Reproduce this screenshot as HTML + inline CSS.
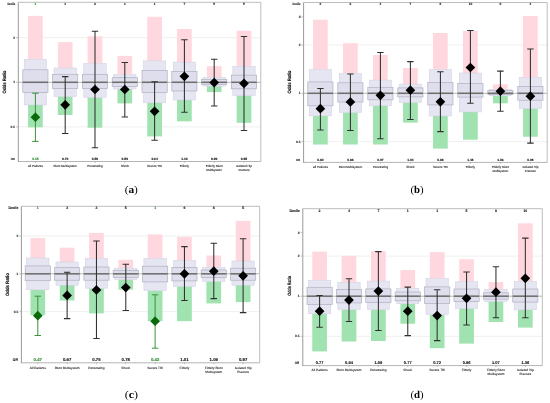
<!DOCTYPE html>
<html><head><meta charset="utf-8"><title>Odds ratio by decile</title>
<style>
html,body{margin:0;padding:0;background:#fff;}
body{width:550px;height:403px;overflow:hidden;}
svg{display:block;}
text{font-family:"Liberation Sans",Arial,sans-serif;text-rendering:geometricPrecision;}
.lab{font-family:"Liberation Serif","Times New Roman",serif;}
</style></head>
<body>
<svg width="550" height="403" viewBox="0 0 550 403">
<rect width="550" height="403" fill="#fff"/>
<line x1="18.3" y1="37.7" x2="260.8" y2="37.7" stroke="#e4e4e4" stroke-width="0.6"/>
<line x1="18.3" y1="126.9" x2="260.8" y2="126.9" stroke="#e4e4e4" stroke-width="0.6"/>
<rect x="28.05" y="15.9" width="14.7" height="43.4" fill="#ffd7de"/>
<rect x="28.05" y="105" width="14.7" height="22.3" fill="#a0e2b0"/>
<rect x="24.2" y="59.3" width="22.4" height="45.7" fill="#e6e6f2" stroke="#cfcfe0" stroke-width="0.5"/>
<rect x="22.8" y="69.8" width="25.2" height="22.7" fill="#dedeed" stroke="#afafc2" stroke-width="0.7"/>
<rect x="57.85" y="42.1" width="14.7" height="25.9" fill="#ffd7de"/>
<rect x="57.85" y="96.6" width="14.7" height="18.4" fill="#a0e2b0"/>
<rect x="54" y="68" width="22.4" height="28.6" fill="#e6e6f2" stroke="#cfcfe0" stroke-width="0.5"/>
<rect x="52.6" y="74.3" width="25.2" height="14.3" fill="#dedeed" stroke="#afafc2" stroke-width="0.7"/>
<rect x="87.65" y="36.3" width="14.7" height="27.1" fill="#ffd7de"/>
<rect x="87.65" y="97.5" width="14.7" height="30.2" fill="#a0e2b0"/>
<rect x="83.8" y="63.4" width="22.4" height="34.1" fill="#e6e6f2" stroke="#cfcfe0" stroke-width="0.5"/>
<rect x="82.4" y="74.3" width="25.2" height="14.1" fill="#dedeed" stroke="#afafc2" stroke-width="0.7"/>
<rect x="117.45" y="55.9" width="14.7" height="18.4" fill="#ffd7de"/>
<rect x="117.45" y="89" width="14.7" height="14.4" fill="#a0e2b0"/>
<rect x="113.6" y="74.3" width="22.4" height="14.7" fill="#e6e6f2" stroke="#cfcfe0" stroke-width="0.5"/>
<rect x="112.2" y="77.7" width="25.2" height="8.7" fill="#dedeed" stroke="#afafc2" stroke-width="0.7"/>
<rect x="147.25" y="16.8" width="14.7" height="44.1" fill="#ffd7de"/>
<rect x="147.25" y="102.8" width="14.7" height="33.6" fill="#a0e2b0"/>
<rect x="143.4" y="60.9" width="22.4" height="41.9" fill="#e6e6f2" stroke="#cfcfe0" stroke-width="0.5"/>
<rect x="142" y="70.4" width="25.2" height="22" fill="#dedeed" stroke="#afafc2" stroke-width="0.7"/>
<rect x="177.05" y="29" width="14.7" height="33.1" fill="#ffd7de"/>
<rect x="177.05" y="100" width="14.7" height="21.4" fill="#a0e2b0"/>
<rect x="173.2" y="62.1" width="22.4" height="37.9" fill="#e6e6f2" stroke="#cfcfe0" stroke-width="0.5"/>
<rect x="171.8" y="71.5" width="25.2" height="19.5" fill="#dedeed" stroke="#afafc2" stroke-width="0.7"/>
<rect x="206.85" y="66.2" width="14.7" height="11.3" fill="#ffd7de"/>
<rect x="206.85" y="86.1" width="14.7" height="6" fill="#a0e2b0"/>
<rect x="203" y="77.5" width="22.4" height="8.6" fill="#e6e6f2" stroke="#cfcfe0" stroke-width="0.5"/>
<rect x="201.6" y="79.6" width="25.2" height="4.7" fill="#dedeed" stroke="#afafc2" stroke-width="0.7"/>
<rect x="236.65" y="30.7" width="14.7" height="35.6" fill="#ffd7de"/>
<rect x="236.65" y="95.7" width="14.7" height="27.1" fill="#a0e2b0"/>
<rect x="232.8" y="66.3" width="22.4" height="29.4" fill="#e6e6f2" stroke="#cfcfe0" stroke-width="0.5"/>
<rect x="231.4" y="75.1" width="25.2" height="13.7" fill="#dedeed" stroke="#afafc2" stroke-width="0.7"/>
<line x1="18.3" y1="82.3" x2="260.8" y2="82.3" stroke="#ababab" stroke-width="0.9"/>
<line x1="22.8" y1="82.3" x2="48" y2="82.3" stroke="#6e6e6e" stroke-width="1.5"/>
<line x1="52.6" y1="82.3" x2="77.8" y2="82.3" stroke="#6e6e6e" stroke-width="1.5"/>
<line x1="82.4" y1="82.3" x2="107.6" y2="82.3" stroke="#6e6e6e" stroke-width="1.5"/>
<line x1="112.2" y1="82.3" x2="137.4" y2="82.3" stroke="#6e6e6e" stroke-width="1.5"/>
<line x1="142" y1="82.3" x2="167.2" y2="82.3" stroke="#6e6e6e" stroke-width="1.5"/>
<line x1="171.8" y1="82.3" x2="197" y2="82.3" stroke="#6e6e6e" stroke-width="1.5"/>
<line x1="201.6" y1="82.3" x2="226.8" y2="82.3" stroke="#6e6e6e" stroke-width="1.5"/>
<line x1="231.4" y1="82.3" x2="256.6" y2="82.3" stroke="#6e6e6e" stroke-width="1.5"/>
<path d="M35.4 93.2V141.4M32.2 93.2H38.6M32.2 141.4H38.6" stroke="#3a933a" stroke-width="1.0" fill="none"/>
<path d="M35.4 112.35L40.25 117.2L35.4 122.05L30.55 117.2Z" fill="#0a6a0a"/>
<path d="M65.2 76.6V133.4M62 76.6H68.4M62 133.4H68.4" stroke="#303030" stroke-width="1.05" fill="none"/>
<path d="M65.2 99.95L70.05 104.8L65.2 109.65L60.35 104.8Z" fill="#000"/>
<path d="M95 31.3V147.7M91.8 31.3H98.2M91.8 147.7H98.2" stroke="#303030" stroke-width="1.05" fill="none"/>
<path d="M95 84.65L99.85 89.5L95 94.35L90.15 89.5Z" fill="#000"/>
<path d="M124.8 62.4V117M121.6 62.4H128M121.6 117H128" stroke="#303030" stroke-width="1.05" fill="none"/>
<path d="M124.8 84.65L129.65 89.5L124.8 94.35L119.95 89.5Z" fill="#000"/>
<path d="M154.6 81.7V140.2M151.4 81.7H157.8M151.4 140.2H157.8" stroke="#303030" stroke-width="1.05" fill="none"/>
<path d="M154.6 106.45L159.45 111.3L154.6 116.15L149.75 111.3Z" fill="#000"/>
<path d="M184.4 39.8V112.2M181.2 39.8H187.6M181.2 112.2H187.6" stroke="#303030" stroke-width="1.05" fill="none"/>
<path d="M184.4 71.45L189.25 76.3L184.4 81.15L179.55 76.3Z" fill="#000"/>
<path d="M214.2 59.2V106M211 59.2H217.4M211 106H217.4" stroke="#303030" stroke-width="1.05" fill="none"/>
<path d="M214.2 77.75L219.05 82.6L214.2 87.45L209.35 82.6Z" fill="#000"/>
<path d="M244 36.4V130.5M240.8 36.4H247.2M240.8 130.5H247.2" stroke="#303030" stroke-width="1.05" fill="none"/>
<path d="M244 78.55L248.85 83.4L244 88.25L239.15 83.4Z" fill="#000"/>
<path d="M18.3 2.3H260.8V161.5" stroke="#bdbdbd" stroke-width="1.0" fill="none"/>
<path d="M18.3 161.5H260.8" stroke="#ababab" stroke-width="0.9" fill="none"/>
<path d="M18.3 2.3V161.95" stroke="#9a9a9a" stroke-width="1" fill="none"/>
<line x1="16.1" y1="37.7" x2="18.3" y2="37.7" stroke="#9a9a9a" stroke-width="0.6"/>
<text x="15.2" y="38.89" font-size="3.3" font-weight="bold" text-anchor="end" fill="#333" stroke="#333" stroke-width="0.1">2</text>
<line x1="16.1" y1="82.3" x2="18.3" y2="82.3" stroke="#9a9a9a" stroke-width="0.6"/>
<text x="15.2" y="83.49" font-size="3.3" font-weight="bold" text-anchor="end" fill="#333" stroke="#333" stroke-width="0.1">1</text>
<line x1="16.1" y1="126.9" x2="18.3" y2="126.9" stroke="#9a9a9a" stroke-width="0.6"/>
<text x="15.2" y="128.09" font-size="3.3" font-weight="bold" text-anchor="end" fill="#333" stroke="#333" stroke-width="0.1">0.5</text>
<line x1="35.4" y1="161.5" x2="35.4" y2="162.9" stroke="#9a9a9a" stroke-width="0.6"/>
<line x1="65.2" y1="161.5" x2="65.2" y2="162.9" stroke="#9a9a9a" stroke-width="0.6"/>
<line x1="95" y1="161.5" x2="95" y2="162.9" stroke="#9a9a9a" stroke-width="0.6"/>
<line x1="124.8" y1="161.5" x2="124.8" y2="162.9" stroke="#9a9a9a" stroke-width="0.6"/>
<line x1="154.6" y1="161.5" x2="154.6" y2="162.9" stroke="#9a9a9a" stroke-width="0.6"/>
<line x1="184.4" y1="161.5" x2="184.4" y2="162.9" stroke="#9a9a9a" stroke-width="0.6"/>
<line x1="214.2" y1="161.5" x2="214.2" y2="162.9" stroke="#9a9a9a" stroke-width="0.6"/>
<line x1="244" y1="161.5" x2="244" y2="162.9" stroke="#9a9a9a" stroke-width="0.6"/>
<text x="15.2" y="4.79" font-size="3.3" font-weight="bold" text-anchor="end" textLength="7.8" lengthAdjust="spacingAndGlyphs" fill="#111" stroke="#111" stroke-width="0.1">Decile</text>
<text x="35.4" y="4.75" font-size="3.2" font-weight="bold" text-anchor="middle" fill="#2e8b2e" stroke="#2e8b2e" stroke-width="0.1">1</text>
<text x="65.2" y="4.75" font-size="3.2" font-weight="bold" text-anchor="middle" fill="#222" stroke="#222" stroke-width="0.1">1</text>
<text x="95" y="4.75" font-size="3.2" font-weight="bold" text-anchor="middle" fill="#222" stroke="#222" stroke-width="0.1">3</text>
<text x="124.8" y="4.75" font-size="3.2" font-weight="bold" text-anchor="middle" fill="#222" stroke="#222" stroke-width="0.1">1</text>
<text x="154.6" y="4.75" font-size="3.2" font-weight="bold" text-anchor="middle" fill="#222" stroke="#222" stroke-width="0.1">1</text>
<text x="184.4" y="4.75" font-size="3.2" font-weight="bold" text-anchor="middle" fill="#222" stroke="#222" stroke-width="0.1">7</text>
<text x="214.2" y="4.75" font-size="3.2" font-weight="bold" text-anchor="middle" fill="#222" stroke="#222" stroke-width="0.1">5</text>
<text x="244" y="4.75" font-size="3.2" font-weight="bold" text-anchor="middle" fill="#222" stroke="#222" stroke-width="0.1">5</text>
<text x="14.7" y="160.38" font-size="3" font-weight="bold" text-anchor="end" textLength="3.9" lengthAdjust="spacingAndGlyphs" fill="#111" stroke="#111" stroke-width="0.1">OR</text>
<text x="35.4" y="160.49" font-size="3.3" font-weight="bold" text-anchor="middle" fill="#2e8b2e" stroke="#2e8b2e" stroke-width="0.1">0.58</text>
<text x="65.2" y="160.49" font-size="3.3" font-weight="bold" text-anchor="middle" fill="#111" stroke="#111" stroke-width="0.1">0.70</text>
<text x="95" y="160.49" font-size="3.3" font-weight="bold" text-anchor="middle" fill="#111" stroke="#111" stroke-width="0.1">0.89</text>
<text x="124.8" y="160.49" font-size="3.3" font-weight="bold" text-anchor="middle" fill="#111" stroke="#111" stroke-width="0.1">0.89</text>
<text x="154.6" y="160.49" font-size="3.3" font-weight="bold" text-anchor="middle" fill="#111" stroke="#111" stroke-width="0.1">0.64</text>
<text x="184.4" y="160.49" font-size="3.3" font-weight="bold" text-anchor="middle" fill="#111" stroke="#111" stroke-width="0.1">1.10</text>
<text x="214.2" y="160.49" font-size="3.3" font-weight="bold" text-anchor="middle" fill="#111" stroke="#111" stroke-width="0.1">0.99</text>
<text x="244" y="160.49" font-size="3.3" font-weight="bold" text-anchor="middle" fill="#111" stroke="#111" stroke-width="0.1">0.98</text>
<text x="35.4" y="166.98" font-size="3" text-anchor="middle" fill="#333" stroke="#333" stroke-width="0.1">All Patients</text>
<text x="65.2" y="166.98" font-size="3" text-anchor="middle" fill="#333" stroke="#333" stroke-width="0.1">Blunt Multisystem</text>
<text x="95" y="166.98" font-size="3" text-anchor="middle" fill="#333" stroke="#333" stroke-width="0.1">Penetrating</text>
<text x="124.8" y="166.98" font-size="3" text-anchor="middle" fill="#333" stroke="#333" stroke-width="0.1">Shock</text>
<text x="154.6" y="166.98" font-size="3" text-anchor="middle" fill="#333" stroke="#333" stroke-width="0.1">Severe TBI</text>
<text x="184.4" y="166.98" font-size="3" text-anchor="middle" fill="#333" stroke="#333" stroke-width="0.1">Elderly</text>
<text x="214.2" y="166.98" font-size="3" text-anchor="middle" fill="#333" stroke="#333" stroke-width="0.1">Elderly Blunt</text>
<text x="214.2" y="170.78" font-size="3" text-anchor="middle" fill="#333" stroke="#333" stroke-width="0.1">Multisystem</text>
<text x="244" y="166.98" font-size="3" text-anchor="middle" fill="#333" stroke="#333" stroke-width="0.1">Isolated Hip</text>
<text x="244" y="170.78" font-size="3" text-anchor="middle" fill="#333" stroke="#333" stroke-width="0.1">Fracture</text>
<text transform="translate(6.3 82) rotate(-90)" font-size="4.8" font-weight="bold" text-anchor="middle" textLength="22.8" lengthAdjust="spacingAndGlyphs" fill="#111" stroke="#111" stroke-width="0.15">Odds Ratio</text>
<text x="131.3" y="193" class="lab" font-size="10.5" text-anchor="middle" textLength="13.2" lengthAdjust="spacingAndGlyphs" fill="#000">(<tspan font-weight="bold">a</tspan>)</text>
<line x1="303.6" y1="45" x2="547.2" y2="45" stroke="#e4e4e4" stroke-width="0.6"/>
<line x1="303.6" y1="141.6" x2="547.2" y2="141.6" stroke="#e4e4e4" stroke-width="0.6"/>
<rect x="313.05" y="19.7" width="14.7" height="49.7" fill="#ffd7de"/>
<rect x="313.05" y="115.9" width="14.7" height="28.6" fill="#a0e2b0"/>
<rect x="309.2" y="69.4" width="22.4" height="46.5" fill="#e6e6f2" stroke="#cfcfe0" stroke-width="0.5"/>
<rect x="307.8" y="81.9" width="25.2" height="23.9" fill="#dedeed" stroke="#afafc2" stroke-width="0.7"/>
<rect x="343.05" y="43.2" width="14.7" height="30.2" fill="#ffd7de"/>
<rect x="343.05" y="112.5" width="14.7" height="32" fill="#a0e2b0"/>
<rect x="339.2" y="73.4" width="22.4" height="39.1" fill="#e6e6f2" stroke="#cfcfe0" stroke-width="0.5"/>
<rect x="337.8" y="82.8" width="25.2" height="19.2" fill="#dedeed" stroke="#afafc2" stroke-width="0.7"/>
<rect x="373.05" y="55" width="14.7" height="25.1" fill="#ffd7de"/>
<rect x="373.05" y="105.8" width="14.7" height="38.7" fill="#a0e2b0"/>
<rect x="369.2" y="80.1" width="22.4" height="25.7" fill="#e6e6f2" stroke="#cfcfe0" stroke-width="0.5"/>
<rect x="367.8" y="87.3" width="25.2" height="12.5" fill="#dedeed" stroke="#afafc2" stroke-width="0.7"/>
<rect x="403.05" y="68" width="14.7" height="16.1" fill="#ffd7de"/>
<rect x="403.05" y="102.5" width="14.7" height="20.1" fill="#a0e2b0"/>
<rect x="399.2" y="84.1" width="22.4" height="18.4" fill="#e6e6f2" stroke="#cfcfe0" stroke-width="0.5"/>
<rect x="397.8" y="87.9" width="25.2" height="9" fill="#dedeed" stroke="#afafc2" stroke-width="0.7"/>
<rect x="433.05" y="33" width="14.7" height="36.5" fill="#ffd7de"/>
<rect x="433.05" y="116" width="14.7" height="32.6" fill="#a0e2b0"/>
<rect x="429.2" y="69.5" width="22.4" height="46.5" fill="#e6e6f2" stroke="#cfcfe0" stroke-width="0.5"/>
<rect x="427.8" y="82.5" width="25.2" height="22.4" fill="#dedeed" stroke="#afafc2" stroke-width="0.7"/>
<rect x="463.05" y="31" width="14.7" height="42" fill="#ffd7de"/>
<rect x="463.05" y="112" width="14.7" height="27.7" fill="#a0e2b0"/>
<rect x="459.2" y="73" width="22.4" height="39" fill="#e6e6f2" stroke="#cfcfe0" stroke-width="0.5"/>
<rect x="457.8" y="83.6" width="25.2" height="13.5" fill="#dedeed" stroke="#afafc2" stroke-width="0.7"/>
<rect x="493.05" y="84.3" width="14.7" height="5.3" fill="#ffd7de"/>
<rect x="493.05" y="95.7" width="14.7" height="7.6" fill="#a0e2b0"/>
<rect x="489.2" y="89.6" width="22.4" height="6.1" fill="#e6e6f2" stroke="#cfcfe0" stroke-width="0.5"/>
<rect x="487.8" y="90.6" width="25.2" height="3.8" fill="#dedeed" stroke="#afafc2" stroke-width="0.7"/>
<rect x="523.05" y="16" width="14.7" height="61.3" fill="#ffd7de"/>
<rect x="523.05" y="108.5" width="14.7" height="28.2" fill="#a0e2b0"/>
<rect x="519.2" y="77.3" width="22.4" height="31.2" fill="#e6e6f2" stroke="#cfcfe0" stroke-width="0.5"/>
<rect x="517.8" y="86.5" width="25.2" height="13.7" fill="#dedeed" stroke="#afafc2" stroke-width="0.7"/>
<line x1="303.6" y1="93.3" x2="547.2" y2="93.3" stroke="#ababab" stroke-width="0.9"/>
<line x1="307.8" y1="93.3" x2="333" y2="93.3" stroke="#6e6e6e" stroke-width="1.5"/>
<line x1="337.8" y1="93.3" x2="363" y2="93.3" stroke="#6e6e6e" stroke-width="1.5"/>
<line x1="367.8" y1="93.3" x2="393" y2="93.3" stroke="#6e6e6e" stroke-width="1.5"/>
<line x1="397.8" y1="93.3" x2="423" y2="93.3" stroke="#6e6e6e" stroke-width="1.5"/>
<line x1="427.8" y1="93.3" x2="453" y2="93.3" stroke="#6e6e6e" stroke-width="1.5"/>
<line x1="457.8" y1="93.3" x2="483" y2="93.3" stroke="#6e6e6e" stroke-width="1.5"/>
<line x1="487.8" y1="93.3" x2="513" y2="93.3" stroke="#6e6e6e" stroke-width="1.5"/>
<line x1="517.8" y1="93.3" x2="543" y2="93.3" stroke="#6e6e6e" stroke-width="1.5"/>
<path d="M320.4 88.4V130M317.2 88.4H323.6M317.2 130H323.6" stroke="#303030" stroke-width="1.05" fill="none"/>
<path d="M320.4 103.85L325.25 108.7L320.4 113.55L315.55 108.7Z" fill="#000"/>
<path d="M350.4 73.9V130.4M347.2 73.9H353.6M347.2 130.4H353.6" stroke="#303030" stroke-width="1.05" fill="none"/>
<path d="M350.4 97.15L355.25 102L350.4 106.85L345.55 102Z" fill="#000"/>
<path d="M380.4 52.4V138.7M377.2 52.4H383.6M377.2 138.7H383.6" stroke="#303030" stroke-width="1.05" fill="none"/>
<path d="M380.4 90.45L385.25 95.3L380.4 100.15L375.55 95.3Z" fill="#000"/>
<path d="M410.4 61.6V119.4M407.2 61.6H413.6M407.2 119.4H413.6" stroke="#303030" stroke-width="1.05" fill="none"/>
<path d="M410.4 85.35L415.25 90.2L410.4 95.05L405.55 90.2Z" fill="#000"/>
<path d="M440.4 71.8V131.6M437.2 71.8H443.6M437.2 131.6H443.6" stroke="#303030" stroke-width="1.05" fill="none"/>
<path d="M440.4 96.95L445.25 101.8L440.4 106.65L435.55 101.8Z" fill="#000"/>
<path d="M470.4 30.4V103.3M467.2 30.4H473.6M467.2 103.3H473.6" stroke="#303030" stroke-width="1.05" fill="none"/>
<path d="M470.4 62.65L475.25 67.5L470.4 72.35L465.55 67.5Z" fill="#000"/>
<path d="M500.4 71.1V111.3M497.2 71.1H503.6M497.2 111.3H503.6" stroke="#303030" stroke-width="1.05" fill="none"/>
<path d="M500.4 86.35L505.25 91.2L500.4 96.05L495.55 91.2Z" fill="#000"/>
<path d="M530.4 49V143.1M527.2 49H533.6M527.2 143.1H533.6" stroke="#303030" stroke-width="1.05" fill="none"/>
<path d="M530.4 91.35L535.25 96.2L530.4 101.05L525.55 96.2Z" fill="#000"/>
<path d="M303.6 2.5H547.2V162.4" stroke="#bdbdbd" stroke-width="1.0" fill="none"/>
<path d="M303.6 162.4H547.2" stroke="#ababab" stroke-width="0.9" fill="none"/>
<path d="M303.6 2.5V162.85" stroke="#9a9a9a" stroke-width="1" fill="none"/>
<line x1="301.4" y1="16.75" x2="303.6" y2="16.75" stroke="#9a9a9a" stroke-width="0.6"/>
<text x="300.5" y="17.93" font-size="3.3" font-weight="bold" text-anchor="end" fill="#333" stroke="#333" stroke-width="0.1">3</text>
<line x1="301.4" y1="45" x2="303.6" y2="45" stroke="#9a9a9a" stroke-width="0.6"/>
<text x="300.5" y="46.19" font-size="3.3" font-weight="bold" text-anchor="end" fill="#333" stroke="#333" stroke-width="0.1">2</text>
<line x1="301.4" y1="93.3" x2="303.6" y2="93.3" stroke="#9a9a9a" stroke-width="0.6"/>
<text x="300.5" y="94.49" font-size="3.3" font-weight="bold" text-anchor="end" fill="#333" stroke="#333" stroke-width="0.1">1</text>
<line x1="301.4" y1="141.6" x2="303.6" y2="141.6" stroke="#9a9a9a" stroke-width="0.6"/>
<text x="300.5" y="142.79" font-size="3.3" font-weight="bold" text-anchor="end" fill="#333" stroke="#333" stroke-width="0.1">0.5</text>
<line x1="320.4" y1="162.4" x2="320.4" y2="163.8" stroke="#9a9a9a" stroke-width="0.6"/>
<line x1="350.4" y1="162.4" x2="350.4" y2="163.8" stroke="#9a9a9a" stroke-width="0.6"/>
<line x1="380.4" y1="162.4" x2="380.4" y2="163.8" stroke="#9a9a9a" stroke-width="0.6"/>
<line x1="410.4" y1="162.4" x2="410.4" y2="163.8" stroke="#9a9a9a" stroke-width="0.6"/>
<line x1="440.4" y1="162.4" x2="440.4" y2="163.8" stroke="#9a9a9a" stroke-width="0.6"/>
<line x1="470.4" y1="162.4" x2="470.4" y2="163.8" stroke="#9a9a9a" stroke-width="0.6"/>
<line x1="500.4" y1="162.4" x2="500.4" y2="163.8" stroke="#9a9a9a" stroke-width="0.6"/>
<line x1="530.4" y1="162.4" x2="530.4" y2="163.8" stroke="#9a9a9a" stroke-width="0.6"/>
<text x="300.5" y="4.99" font-size="3.3" font-weight="bold" text-anchor="end" textLength="7.9" lengthAdjust="spacingAndGlyphs" fill="#111" stroke="#111" stroke-width="0.1">Decile</text>
<text x="320.4" y="4.95" font-size="3.2" font-weight="bold" text-anchor="middle" fill="#222" stroke="#222" stroke-width="0.1">2</text>
<text x="350.4" y="4.95" font-size="3.2" font-weight="bold" text-anchor="middle" fill="#222" stroke="#222" stroke-width="0.1">3</text>
<text x="380.4" y="4.95" font-size="3.2" font-weight="bold" text-anchor="middle" fill="#222" stroke="#222" stroke-width="0.1">4</text>
<text x="410.4" y="4.95" font-size="3.2" font-weight="bold" text-anchor="middle" fill="#222" stroke="#222" stroke-width="0.1">7</text>
<text x="440.4" y="4.95" font-size="3.2" font-weight="bold" text-anchor="middle" fill="#222" stroke="#222" stroke-width="0.1">6</text>
<text x="470.4" y="4.95" font-size="3.2" font-weight="bold" text-anchor="middle" fill="#222" stroke="#222" stroke-width="0.1">10</text>
<text x="500.4" y="4.95" font-size="3.2" font-weight="bold" text-anchor="middle" fill="#222" stroke="#222" stroke-width="0.1">9</text>
<text x="530.4" y="4.95" font-size="3.2" font-weight="bold" text-anchor="middle" fill="#222" stroke="#222" stroke-width="0.1">4</text>
<text x="300" y="161.28" font-size="3" font-weight="bold" text-anchor="end" textLength="3.9" lengthAdjust="spacingAndGlyphs" fill="#111" stroke="#111" stroke-width="0.1">OR</text>
<text x="320.4" y="161.35" font-size="3.2" font-weight="bold" text-anchor="middle" fill="#111" stroke="#111" stroke-width="0.1">0.80</text>
<text x="350.4" y="161.35" font-size="3.2" font-weight="bold" text-anchor="middle" fill="#111" stroke="#111" stroke-width="0.1">0.88</text>
<text x="380.4" y="161.35" font-size="3.2" font-weight="bold" text-anchor="middle" fill="#111" stroke="#111" stroke-width="0.1">0.97</text>
<text x="410.4" y="161.35" font-size="3.2" font-weight="bold" text-anchor="middle" fill="#111" stroke="#111" stroke-width="0.1">1.04</text>
<text x="440.4" y="161.35" font-size="3.2" font-weight="bold" text-anchor="middle" fill="#111" stroke="#111" stroke-width="0.1">0.88</text>
<text x="470.4" y="161.35" font-size="3.2" font-weight="bold" text-anchor="middle" fill="#111" stroke="#111" stroke-width="0.1">1.46</text>
<text x="500.4" y="161.35" font-size="3.2" font-weight="bold" text-anchor="middle" fill="#111" stroke="#111" stroke-width="0.1">1.03</text>
<text x="530.4" y="161.35" font-size="3.2" font-weight="bold" text-anchor="middle" fill="#111" stroke="#111" stroke-width="0.1">0.96</text>
<text x="320.4" y="168.38" font-size="3" text-anchor="middle" fill="#333" stroke="#333" stroke-width="0.1">All Patients</text>
<text x="350.4" y="168.38" font-size="3" text-anchor="middle" fill="#333" stroke="#333" stroke-width="0.1">Blunt Multisystem</text>
<text x="380.4" y="168.38" font-size="3" text-anchor="middle" fill="#333" stroke="#333" stroke-width="0.1">Penetrating</text>
<text x="410.4" y="168.38" font-size="3" text-anchor="middle" fill="#333" stroke="#333" stroke-width="0.1">Shock</text>
<text x="440.4" y="168.38" font-size="3" text-anchor="middle" fill="#333" stroke="#333" stroke-width="0.1">Severe TBI</text>
<text x="470.4" y="168.38" font-size="3" text-anchor="middle" fill="#333" stroke="#333" stroke-width="0.1">Elderly</text>
<text x="500.4" y="168.38" font-size="3" text-anchor="middle" fill="#333" stroke="#333" stroke-width="0.1">Elderly Blunt</text>
<text x="500.4" y="172.18" font-size="3" text-anchor="middle" fill="#333" stroke="#333" stroke-width="0.1">Multisystem</text>
<text x="530.4" y="168.38" font-size="3" text-anchor="middle" fill="#333" stroke="#333" stroke-width="0.1">Isolated Hip</text>
<text x="530.4" y="172.18" font-size="3" text-anchor="middle" fill="#333" stroke="#333" stroke-width="0.1">Fracture</text>
<text transform="translate(290.5 82) rotate(-90)" font-size="4.8" font-weight="bold" text-anchor="middle" textLength="22.8" lengthAdjust="spacingAndGlyphs" fill="#111" stroke="#111" stroke-width="0.15">Odds Ratio</text>
<text x="417.1" y="193" class="lab" font-size="10.5" text-anchor="middle" textLength="13.2" lengthAdjust="spacingAndGlyphs" fill="#000">(<tspan font-weight="bold">b</tspan>)</text>
<line x1="21.4" y1="236" x2="259.7" y2="236" stroke="#e4e4e4" stroke-width="0.6"/>
<line x1="21.4" y1="311.6" x2="259.7" y2="311.6" stroke="#e4e4e4" stroke-width="0.6"/>
<rect x="30.45" y="238" width="14.7" height="20" fill="#ffd7de"/>
<rect x="30.45" y="289.8" width="14.7" height="25.4" fill="#a0e2b0"/>
<rect x="26.6" y="258" width="22.4" height="31.8" fill="#e6e6f2" stroke="#cfcfe0" stroke-width="0.5"/>
<rect x="25.2" y="265.9" width="25.2" height="14.8" fill="#dedeed" stroke="#afafc2" stroke-width="0.7"/>
<rect x="59.78" y="247.7" width="14.7" height="14.3" fill="#ffd7de"/>
<rect x="59.78" y="285.2" width="14.7" height="15.3" fill="#a0e2b0"/>
<rect x="55.93" y="262" width="22.4" height="23.2" fill="#e6e6f2" stroke="#cfcfe0" stroke-width="0.5"/>
<rect x="54.53" y="267.7" width="25.2" height="12.5" fill="#dedeed" stroke="#afafc2" stroke-width="0.7"/>
<rect x="89.11" y="233" width="14.7" height="25.4" fill="#ffd7de"/>
<rect x="89.11" y="288.2" width="14.7" height="25.2" fill="#a0e2b0"/>
<rect x="85.26" y="258.4" width="22.4" height="29.8" fill="#e6e6f2" stroke="#cfcfe0" stroke-width="0.5"/>
<rect x="83.86" y="267" width="25.2" height="13.2" fill="#dedeed" stroke="#afafc2" stroke-width="0.7"/>
<rect x="118.44" y="259.8" width="14.7" height="8.4" fill="#ffd7de"/>
<rect x="118.44" y="279.5" width="14.7" height="10.1" fill="#a0e2b0"/>
<rect x="114.59" y="268.2" width="22.4" height="11.3" fill="#e6e6f2" stroke="#cfcfe0" stroke-width="0.5"/>
<rect x="113.19" y="270.5" width="25.2" height="6.8" fill="#dedeed" stroke="#afafc2" stroke-width="0.7"/>
<rect x="147.77" y="234.4" width="14.7" height="24.1" fill="#ffd7de"/>
<rect x="147.77" y="290.7" width="14.7" height="30.5" fill="#a0e2b0"/>
<rect x="143.92" y="258.5" width="22.4" height="32.2" fill="#e6e6f2" stroke="#cfcfe0" stroke-width="0.5"/>
<rect x="142.52" y="266.2" width="25.2" height="15.7" fill="#dedeed" stroke="#afafc2" stroke-width="0.7"/>
<rect x="177.1" y="236.9" width="14.7" height="23.4" fill="#ffd7de"/>
<rect x="177.1" y="286.4" width="14.7" height="34.8" fill="#a0e2b0"/>
<rect x="173.25" y="260.3" width="22.4" height="26.1" fill="#e6e6f2" stroke="#cfcfe0" stroke-width="0.5"/>
<rect x="171.85" y="267.4" width="25.2" height="13.5" fill="#dedeed" stroke="#afafc2" stroke-width="0.7"/>
<rect x="206.43" y="255.5" width="14.7" height="11.9" fill="#ffd7de"/>
<rect x="206.43" y="281.4" width="14.7" height="22" fill="#a0e2b0"/>
<rect x="202.58" y="267.4" width="22.4" height="14" fill="#e6e6f2" stroke="#cfcfe0" stroke-width="0.5"/>
<rect x="201.18" y="270" width="25.2" height="7.6" fill="#dedeed" stroke="#afafc2" stroke-width="0.7"/>
<rect x="235.76" y="220.9" width="14.7" height="40.1" fill="#ffd7de"/>
<rect x="235.76" y="285.2" width="14.7" height="16.9" fill="#a0e2b0"/>
<rect x="231.91" y="261" width="22.4" height="24.2" fill="#e6e6f2" stroke="#cfcfe0" stroke-width="0.5"/>
<rect x="230.51" y="268.2" width="25.2" height="12" fill="#dedeed" stroke="#afafc2" stroke-width="0.7"/>
<line x1="21.4" y1="273.8" x2="259.7" y2="273.8" stroke="#ababab" stroke-width="0.9"/>
<line x1="25.2" y1="273.8" x2="50.4" y2="273.8" stroke="#6e6e6e" stroke-width="1.5"/>
<line x1="54.53" y1="273.8" x2="79.73" y2="273.8" stroke="#6e6e6e" stroke-width="1.5"/>
<line x1="83.86" y1="273.8" x2="109.06" y2="273.8" stroke="#6e6e6e" stroke-width="1.5"/>
<line x1="113.19" y1="273.8" x2="138.39" y2="273.8" stroke="#6e6e6e" stroke-width="1.5"/>
<line x1="142.52" y1="273.8" x2="167.72" y2="273.8" stroke="#6e6e6e" stroke-width="1.5"/>
<line x1="171.85" y1="273.8" x2="197.05" y2="273.8" stroke="#6e6e6e" stroke-width="1.5"/>
<line x1="201.18" y1="273.8" x2="226.38" y2="273.8" stroke="#6e6e6e" stroke-width="1.5"/>
<line x1="230.51" y1="273.8" x2="255.71" y2="273.8" stroke="#6e6e6e" stroke-width="1.5"/>
<path d="M37.8 296.2V335.5M34.6 296.2H41M34.6 335.5H41" stroke="#3a933a" stroke-width="1.0" fill="none"/>
<path d="M37.8 310.85L42.65 315.7L37.8 320.55L32.95 315.7Z" fill="#0a6a0a"/>
<path d="M67.13 272.3V318.6M63.93 272.3H70.33M63.93 318.6H70.33" stroke="#303030" stroke-width="1.05" fill="none"/>
<path d="M67.13 290.55L71.98 295.4L67.13 300.25L62.28 295.4Z" fill="#000"/>
<path d="M96.46 240.9V338.4M93.26 240.9H99.66M93.26 338.4H99.66" stroke="#303030" stroke-width="1.05" fill="none"/>
<path d="M96.46 285.05L101.31 289.9L96.46 294.75L91.61 289.9Z" fill="#000"/>
<path d="M125.79 264.3V310.5M122.59 264.3H128.99M122.59 310.5H128.99" stroke="#303030" stroke-width="1.05" fill="none"/>
<path d="M125.79 282.75L130.64 287.6L125.79 292.45L120.94 287.6Z" fill="#000"/>
<path d="M155.12 294.8V348.2M151.92 294.8H158.32M151.92 348.2H158.32" stroke="#3a933a" stroke-width="1.0" fill="none"/>
<path d="M155.12 316.35L159.97 321.2L155.12 326.05L150.27 321.2Z" fill="#0a6a0a"/>
<path d="M184.45 246.6V300.4M181.25 246.6H187.65M181.25 300.4H187.65" stroke="#303030" stroke-width="1.05" fill="none"/>
<path d="M184.45 268.95L189.3 273.8L184.45 278.65L179.6 273.8Z" fill="#000"/>
<path d="M213.78 243.3V298.6M210.58 243.3H216.98M210.58 298.6H216.98" stroke="#303030" stroke-width="1.05" fill="none"/>
<path d="M213.78 266.35L218.63 271.2L213.78 276.05L208.93 271.2Z" fill="#000"/>
<path d="M243.11 238.7V312.6M239.91 238.7H246.31M239.91 312.6H246.31" stroke="#303030" stroke-width="1.05" fill="none"/>
<path d="M243.11 270.95L247.96 275.8L243.11 280.65L238.26 275.8Z" fill="#000"/>
<path d="M21.4 206.3H259.7V362.8" stroke="#bdbdbd" stroke-width="1.0" fill="none"/>
<path d="M21.4 362.8H259.7" stroke="#ababab" stroke-width="0.9" fill="none"/>
<path d="M21.4 206.3V363.25" stroke="#9a9a9a" stroke-width="1" fill="none"/>
<line x1="19.2" y1="236" x2="21.4" y2="236" stroke="#9a9a9a" stroke-width="0.6"/>
<text x="18.3" y="237.19" font-size="3.3" font-weight="bold" text-anchor="end" fill="#333" stroke="#333" stroke-width="0.1">2</text>
<line x1="19.2" y1="273.8" x2="21.4" y2="273.8" stroke="#9a9a9a" stroke-width="0.6"/>
<text x="18.3" y="274.99" font-size="3.3" font-weight="bold" text-anchor="end" fill="#333" stroke="#333" stroke-width="0.1">1</text>
<line x1="19.2" y1="311.6" x2="21.4" y2="311.6" stroke="#9a9a9a" stroke-width="0.6"/>
<text x="18.3" y="312.79" font-size="3.3" font-weight="bold" text-anchor="end" fill="#333" stroke="#333" stroke-width="0.1">0.5</text>
<line x1="37.8" y1="362.8" x2="37.8" y2="364.2" stroke="#9a9a9a" stroke-width="0.6"/>
<line x1="67.13" y1="362.8" x2="67.13" y2="364.2" stroke="#9a9a9a" stroke-width="0.6"/>
<line x1="96.46" y1="362.8" x2="96.46" y2="364.2" stroke="#9a9a9a" stroke-width="0.6"/>
<line x1="125.79" y1="362.8" x2="125.79" y2="364.2" stroke="#9a9a9a" stroke-width="0.6"/>
<line x1="155.12" y1="362.8" x2="155.12" y2="364.2" stroke="#9a9a9a" stroke-width="0.6"/>
<line x1="184.45" y1="362.8" x2="184.45" y2="364.2" stroke="#9a9a9a" stroke-width="0.6"/>
<line x1="213.78" y1="362.8" x2="213.78" y2="364.2" stroke="#9a9a9a" stroke-width="0.6"/>
<line x1="243.11" y1="362.8" x2="243.11" y2="364.2" stroke="#9a9a9a" stroke-width="0.6"/>
<text x="18.3" y="209.47" font-size="3.8" font-weight="bold" text-anchor="end" textLength="9.8" lengthAdjust="spacingAndGlyphs" fill="#111" stroke="#111" stroke-width="0.1">Decile</text>
<text x="37.8" y="209.36" font-size="3.5" font-weight="bold" text-anchor="middle" fill="#2e8b2e" stroke="#2e8b2e" stroke-width="0.1">1</text>
<text x="67.13" y="209.36" font-size="3.5" font-weight="bold" text-anchor="middle" fill="#222" stroke="#222" stroke-width="0.1">3</text>
<text x="96.46" y="209.36" font-size="3.5" font-weight="bold" text-anchor="middle" fill="#222" stroke="#222" stroke-width="0.1">3</text>
<text x="125.79" y="209.36" font-size="3.5" font-weight="bold" text-anchor="middle" fill="#222" stroke="#222" stroke-width="0.1">5</text>
<text x="155.12" y="209.36" font-size="3.5" font-weight="bold" text-anchor="middle" fill="#2e8b2e" stroke="#2e8b2e" stroke-width="0.1">1</text>
<text x="184.45" y="209.36" font-size="3.5" font-weight="bold" text-anchor="middle" fill="#222" stroke="#222" stroke-width="0.1">6</text>
<text x="213.78" y="209.36" font-size="3.5" font-weight="bold" text-anchor="middle" fill="#222" stroke="#222" stroke-width="0.1">8</text>
<text x="243.11" y="209.36" font-size="3.5" font-weight="bold" text-anchor="middle" fill="#222" stroke="#222" stroke-width="0.1">5</text>
<text x="17.8" y="361.17" font-size="3.8" font-weight="bold" text-anchor="end" textLength="4.94" lengthAdjust="spacingAndGlyphs" fill="#111" stroke="#111" stroke-width="0.1">OR</text>
<text x="37.8" y="361.35" font-size="4.3" font-weight="bold" text-anchor="middle" fill="#2e8b2e" stroke="#2e8b2e" stroke-width="0.1">0.47</text>
<text x="67.13" y="361.35" font-size="4.3" font-weight="bold" text-anchor="middle" fill="#111" stroke="#111" stroke-width="0.1">0.67</text>
<text x="96.46" y="361.35" font-size="4.3" font-weight="bold" text-anchor="middle" fill="#111" stroke="#111" stroke-width="0.1">0.75</text>
<text x="125.79" y="361.35" font-size="4.3" font-weight="bold" text-anchor="middle" fill="#111" stroke="#111" stroke-width="0.1">0.78</text>
<text x="155.12" y="361.35" font-size="4.3" font-weight="bold" text-anchor="middle" fill="#2e8b2e" stroke="#2e8b2e" stroke-width="0.1">0.42</text>
<text x="184.45" y="361.35" font-size="4.3" font-weight="bold" text-anchor="middle" fill="#111" stroke="#111" stroke-width="0.1">1.01</text>
<text x="213.78" y="361.35" font-size="4.3" font-weight="bold" text-anchor="middle" fill="#111" stroke="#111" stroke-width="0.1">1.06</text>
<text x="243.11" y="361.35" font-size="4.3" font-weight="bold" text-anchor="middle" fill="#111" stroke="#111" stroke-width="0.1">0.97</text>
<text x="37.8" y="368.95" font-size="3.2" text-anchor="middle" fill="#333" stroke="#333" stroke-width="0.1">All Patients</text>
<text x="67.13" y="368.95" font-size="3.2" text-anchor="middle" fill="#333" stroke="#333" stroke-width="0.1">Blunt Multisystem</text>
<text x="96.46" y="368.95" font-size="3.2" text-anchor="middle" fill="#333" stroke="#333" stroke-width="0.1">Penetrating</text>
<text x="125.79" y="368.95" font-size="3.2" text-anchor="middle" fill="#333" stroke="#333" stroke-width="0.1">Shock</text>
<text x="155.12" y="368.95" font-size="3.2" text-anchor="middle" fill="#333" stroke="#333" stroke-width="0.1">Severe TBI</text>
<text x="184.45" y="368.95" font-size="3.2" text-anchor="middle" fill="#333" stroke="#333" stroke-width="0.1">Elderly</text>
<text x="213.78" y="368.95" font-size="3.2" text-anchor="middle" fill="#333" stroke="#333" stroke-width="0.1">Elderly Blunt</text>
<text x="213.78" y="372.75" font-size="3.2" text-anchor="middle" fill="#333" stroke="#333" stroke-width="0.1">Multisystem</text>
<text x="243.11" y="368.95" font-size="3.2" text-anchor="middle" fill="#333" stroke="#333" stroke-width="0.1">Isolated Hip</text>
<text x="243.11" y="372.75" font-size="3.2" text-anchor="middle" fill="#333" stroke="#333" stroke-width="0.1">Fracture</text>
<text transform="translate(9.1 284.6) rotate(-90)" font-size="4.8" font-weight="bold" text-anchor="middle" textLength="22.8" lengthAdjust="spacingAndGlyphs" fill="#111" stroke="#111" stroke-width="0.15">Odds Ratio</text>
<text x="131.3" y="398" class="lab" font-size="10.5" text-anchor="middle" textLength="13.2" lengthAdjust="spacingAndGlyphs" fill="#000">(<tspan font-weight="bold">c</tspan>)</text>
<line x1="302.8" y1="256.1" x2="542.3" y2="256.1" stroke="#e4e4e4" stroke-width="0.6"/>
<line x1="302.8" y1="336.3" x2="542.3" y2="336.3" stroke="#e4e4e4" stroke-width="0.6"/>
<rect x="312.25" y="251.6" width="14.7" height="28.6" fill="#ffd7de"/>
<rect x="312.25" y="313.8" width="14.7" height="37.6" fill="#a0e2b0"/>
<rect x="308.4" y="280.2" width="22.4" height="33.6" fill="#e6e6f2" stroke="#cfcfe0" stroke-width="0.5"/>
<rect x="307" y="287.3" width="25.2" height="17.1" fill="#dedeed" stroke="#afafc2" stroke-width="0.7"/>
<rect x="341.64" y="255.8" width="14.7" height="26.5" fill="#ffd7de"/>
<rect x="341.64" y="309.6" width="14.7" height="31.9" fill="#a0e2b0"/>
<rect x="337.79" y="282.3" width="22.4" height="27.3" fill="#e6e6f2" stroke="#cfcfe0" stroke-width="0.5"/>
<rect x="336.39" y="289.4" width="25.2" height="13.5" fill="#dedeed" stroke="#afafc2" stroke-width="0.7"/>
<rect x="371.03" y="251.1" width="14.7" height="30" fill="#ffd7de"/>
<rect x="371.03" y="309.6" width="14.7" height="31.4" fill="#a0e2b0"/>
<rect x="367.18" y="281.1" width="22.4" height="28.5" fill="#e6e6f2" stroke="#cfcfe0" stroke-width="0.5"/>
<rect x="365.78" y="288.9" width="25.2" height="13.6" fill="#dedeed" stroke="#afafc2" stroke-width="0.7"/>
<rect x="400.42" y="270" width="14.7" height="18.3" fill="#ffd7de"/>
<rect x="400.42" y="303.6" width="14.7" height="20.1" fill="#a0e2b0"/>
<rect x="396.57" y="288.3" width="22.4" height="15.3" fill="#e6e6f2" stroke="#cfcfe0" stroke-width="0.5"/>
<rect x="395.17" y="292" width="25.2" height="8.8" fill="#dedeed" stroke="#afafc2" stroke-width="0.7"/>
<rect x="429.81" y="252.1" width="14.7" height="26.2" fill="#ffd7de"/>
<rect x="429.81" y="314.4" width="14.7" height="33.8" fill="#a0e2b0"/>
<rect x="425.96" y="278.3" width="22.4" height="36.1" fill="#e6e6f2" stroke="#cfcfe0" stroke-width="0.5"/>
<rect x="424.56" y="286.9" width="25.2" height="16.5" fill="#dedeed" stroke="#afafc2" stroke-width="0.7"/>
<rect x="459.2" y="259.2" width="14.7" height="22.6" fill="#ffd7de"/>
<rect x="459.2" y="308.5" width="14.7" height="35.1" fill="#a0e2b0"/>
<rect x="455.35" y="281.8" width="22.4" height="26.7" fill="#e6e6f2" stroke="#cfcfe0" stroke-width="0.5"/>
<rect x="453.95" y="289" width="25.2" height="12.6" fill="#dedeed" stroke="#afafc2" stroke-width="0.7"/>
<rect x="488.59" y="282.1" width="14.7" height="7.4" fill="#ffd7de"/>
<rect x="488.59" y="301.6" width="14.7" height="20.4" fill="#a0e2b0"/>
<rect x="484.74" y="289.5" width="22.4" height="12.1" fill="#e6e6f2" stroke="#cfcfe0" stroke-width="0.5"/>
<rect x="483.34" y="292.8" width="25.2" height="6.3" fill="#dedeed" stroke="#afafc2" stroke-width="0.7"/>
<rect x="517.98" y="223.3" width="14.7" height="58" fill="#ffd7de"/>
<rect x="517.98" y="309.8" width="14.7" height="17.8" fill="#a0e2b0"/>
<rect x="514.13" y="281.3" width="22.4" height="28.5" fill="#e6e6f2" stroke="#cfcfe0" stroke-width="0.5"/>
<rect x="512.73" y="289" width="25.2" height="13.1" fill="#dedeed" stroke="#afafc2" stroke-width="0.7"/>
<line x1="302.8" y1="296.2" x2="542.3" y2="296.2" stroke="#ababab" stroke-width="0.9"/>
<line x1="307" y1="296.2" x2="332.2" y2="296.2" stroke="#6e6e6e" stroke-width="1.5"/>
<line x1="336.39" y1="296.2" x2="361.59" y2="296.2" stroke="#6e6e6e" stroke-width="1.5"/>
<line x1="365.78" y1="296.2" x2="390.98" y2="296.2" stroke="#6e6e6e" stroke-width="1.5"/>
<line x1="395.17" y1="296.2" x2="420.37" y2="296.2" stroke="#6e6e6e" stroke-width="1.5"/>
<line x1="424.56" y1="296.2" x2="449.76" y2="296.2" stroke="#6e6e6e" stroke-width="1.5"/>
<line x1="453.95" y1="296.2" x2="479.15" y2="296.2" stroke="#6e6e6e" stroke-width="1.5"/>
<line x1="483.34" y1="296.2" x2="508.54" y2="296.2" stroke="#6e6e6e" stroke-width="1.5"/>
<line x1="512.73" y1="296.2" x2="537.93" y2="296.2" stroke="#6e6e6e" stroke-width="1.5"/>
<path d="M319.6 295.5V327.3M316.4 295.5H322.8M316.4 327.3H322.8" stroke="#303030" stroke-width="1.05" fill="none"/>
<path d="M319.6 306.35L324.45 311.2L319.6 316.05L314.75 311.2Z" fill="#000"/>
<path d="M348.99 278.8V321.4M345.79 278.8H352.19M345.79 321.4H352.19" stroke="#303030" stroke-width="1.05" fill="none"/>
<path d="M348.99 295.25L353.84 300.1L348.99 304.95L344.14 300.1Z" fill="#000"/>
<path d="M378.38 251.6V330.4M375.18 251.6H381.58M375.18 330.4H381.58" stroke="#303030" stroke-width="1.05" fill="none"/>
<path d="M378.38 286.25L383.23 291.1L378.38 295.95L373.53 291.1Z" fill="#000"/>
<path d="M407.77 287.1V335.6M404.57 287.1H410.97M404.57 335.6H410.97" stroke="#303030" stroke-width="1.05" fill="none"/>
<path d="M407.77 306.35L412.62 311.2L407.77 316.05L402.92 311.2Z" fill="#000"/>
<path d="M437.16 289.7V340.6M433.96 289.7H440.36M433.96 340.6H440.36" stroke="#303030" stroke-width="1.05" fill="none"/>
<path d="M437.16 310.75L442.01 315.6L437.16 320.45L432.31 315.6Z" fill="#000"/>
<path d="M466.55 271.9V325M463.35 271.9H469.75M463.35 325H469.75" stroke="#303030" stroke-width="1.05" fill="none"/>
<path d="M466.55 293.45L471.4 298.3L466.55 303.15L461.7 298.3Z" fill="#000"/>
<path d="M495.94 266.8V317.7M492.74 266.8H499.14M492.74 317.7H499.14" stroke="#303030" stroke-width="1.05" fill="none"/>
<path d="M495.94 287.35L500.79 292.2L495.94 297.05L491.09 292.2Z" fill="#000"/>
<path d="M525.33 238.1V317.7M522.13 238.1H528.53M522.13 317.7H528.53" stroke="#303030" stroke-width="1.05" fill="none"/>
<path d="M525.33 273.45L530.18 278.3L525.33 283.15L520.48 278.3Z" fill="#000"/>
<path d="M302.8 208.7H542.3V365.6" stroke="#bdbdbd" stroke-width="1.0" fill="none"/>
<path d="M302.8 365.6H542.3" stroke="#ababab" stroke-width="0.9" fill="none"/>
<path d="M302.8 208.7V366.05" stroke="#9a9a9a" stroke-width="1" fill="none"/>
<line x1="300.6" y1="232.64" x2="302.8" y2="232.64" stroke="#9a9a9a" stroke-width="0.6"/>
<text x="299.7" y="233.83" font-size="3.3" font-weight="bold" text-anchor="end" fill="#333" stroke="#333" stroke-width="0.1">3</text>
<line x1="300.6" y1="256.1" x2="302.8" y2="256.1" stroke="#9a9a9a" stroke-width="0.6"/>
<text x="299.7" y="257.29" font-size="3.3" font-weight="bold" text-anchor="end" fill="#333" stroke="#333" stroke-width="0.1">2</text>
<line x1="300.6" y1="296.2" x2="302.8" y2="296.2" stroke="#9a9a9a" stroke-width="0.6"/>
<text x="299.7" y="297.39" font-size="3.3" font-weight="bold" text-anchor="end" fill="#333" stroke="#333" stroke-width="0.1">1</text>
<line x1="300.6" y1="336.3" x2="302.8" y2="336.3" stroke="#9a9a9a" stroke-width="0.6"/>
<text x="299.7" y="337.49" font-size="3.3" font-weight="bold" text-anchor="end" fill="#333" stroke="#333" stroke-width="0.1">0.5</text>
<line x1="319.6" y1="365.6" x2="319.6" y2="367" stroke="#9a9a9a" stroke-width="0.6"/>
<line x1="348.99" y1="365.6" x2="348.99" y2="367" stroke="#9a9a9a" stroke-width="0.6"/>
<line x1="378.38" y1="365.6" x2="378.38" y2="367" stroke="#9a9a9a" stroke-width="0.6"/>
<line x1="407.77" y1="365.6" x2="407.77" y2="367" stroke="#9a9a9a" stroke-width="0.6"/>
<line x1="437.16" y1="365.6" x2="437.16" y2="367" stroke="#9a9a9a" stroke-width="0.6"/>
<line x1="466.55" y1="365.6" x2="466.55" y2="367" stroke="#9a9a9a" stroke-width="0.6"/>
<line x1="495.94" y1="365.6" x2="495.94" y2="367" stroke="#9a9a9a" stroke-width="0.6"/>
<line x1="525.33" y1="365.6" x2="525.33" y2="367" stroke="#9a9a9a" stroke-width="0.6"/>
<text x="299.7" y="211.67" font-size="3.8" font-weight="bold" text-anchor="end" textLength="10.3" lengthAdjust="spacingAndGlyphs" fill="#111" stroke="#111" stroke-width="0.1">Decile</text>
<text x="319.6" y="211.56" font-size="3.5" font-weight="bold" text-anchor="middle" fill="#222" stroke="#222" stroke-width="0.1">2</text>
<text x="348.99" y="211.56" font-size="3.5" font-weight="bold" text-anchor="middle" fill="#222" stroke="#222" stroke-width="0.1">4</text>
<text x="378.38" y="211.56" font-size="3.5" font-weight="bold" text-anchor="middle" fill="#222" stroke="#222" stroke-width="0.1">7</text>
<text x="407.77" y="211.56" font-size="3.5" font-weight="bold" text-anchor="middle" fill="#222" stroke="#222" stroke-width="0.1">1</text>
<text x="437.16" y="211.56" font-size="3.5" font-weight="bold" text-anchor="middle" fill="#222" stroke="#222" stroke-width="0.1">1</text>
<text x="466.55" y="211.56" font-size="3.5" font-weight="bold" text-anchor="middle" fill="#222" stroke="#222" stroke-width="0.1">5</text>
<text x="495.94" y="211.56" font-size="3.5" font-weight="bold" text-anchor="middle" fill="#222" stroke="#222" stroke-width="0.1">8</text>
<text x="525.33" y="211.56" font-size="3.5" font-weight="bold" text-anchor="middle" fill="#222" stroke="#222" stroke-width="0.1">10</text>
<text x="299.2" y="363.92" font-size="3.4" font-weight="bold" text-anchor="end" textLength="4.42" lengthAdjust="spacingAndGlyphs" fill="#111" stroke="#111" stroke-width="0.1">OR</text>
<text x="319.6" y="364.14" font-size="4" font-weight="bold" text-anchor="middle" fill="#111" stroke="#111" stroke-width="0.1">0.77</text>
<text x="348.99" y="364.14" font-size="4" font-weight="bold" text-anchor="middle" fill="#111" stroke="#111" stroke-width="0.1">0.94</text>
<text x="378.38" y="364.14" font-size="4" font-weight="bold" text-anchor="middle" fill="#111" stroke="#111" stroke-width="0.1">1.09</text>
<text x="407.77" y="364.14" font-size="4" font-weight="bold" text-anchor="middle" fill="#111" stroke="#111" stroke-width="0.1">0.77</text>
<text x="437.16" y="364.14" font-size="4" font-weight="bold" text-anchor="middle" fill="#111" stroke="#111" stroke-width="0.1">0.72</text>
<text x="466.55" y="364.14" font-size="4" font-weight="bold" text-anchor="middle" fill="#111" stroke="#111" stroke-width="0.1">0.96</text>
<text x="495.94" y="364.14" font-size="4" font-weight="bold" text-anchor="middle" fill="#111" stroke="#111" stroke-width="0.1">1.07</text>
<text x="525.33" y="364.14" font-size="4" font-weight="bold" text-anchor="middle" fill="#111" stroke="#111" stroke-width="0.1">1.36</text>
<text x="319.6" y="371.35" font-size="3.2" text-anchor="middle" fill="#333" stroke="#333" stroke-width="0.1">All Patients</text>
<text x="348.99" y="371.35" font-size="3.2" text-anchor="middle" fill="#333" stroke="#333" stroke-width="0.1">Blunt Multisystem</text>
<text x="378.38" y="371.35" font-size="3.2" text-anchor="middle" fill="#333" stroke="#333" stroke-width="0.1">Penetrating</text>
<text x="407.77" y="371.35" font-size="3.2" text-anchor="middle" fill="#333" stroke="#333" stroke-width="0.1">Shock</text>
<text x="437.16" y="371.35" font-size="3.2" text-anchor="middle" fill="#333" stroke="#333" stroke-width="0.1">Severe TBI</text>
<text x="466.55" y="371.35" font-size="3.2" text-anchor="middle" fill="#333" stroke="#333" stroke-width="0.1">Elderly</text>
<text x="495.94" y="371.35" font-size="3.2" text-anchor="middle" fill="#333" stroke="#333" stroke-width="0.1">Elderly Blunt</text>
<text x="495.94" y="375.15" font-size="3.2" text-anchor="middle" fill="#333" stroke="#333" stroke-width="0.1">Multisystem</text>
<text x="525.33" y="371.35" font-size="3.2" text-anchor="middle" fill="#333" stroke="#333" stroke-width="0.1">Isolated Hip</text>
<text x="525.33" y="375.15" font-size="3.2" text-anchor="middle" fill="#333" stroke="#333" stroke-width="0.1">Fracture</text>
<text transform="translate(290.5 285.8) rotate(-90)" font-size="4.8" font-weight="bold" text-anchor="middle" textLength="19.8" lengthAdjust="spacingAndGlyphs" fill="#111" stroke="#111" stroke-width="0.15">Odds Ratio</text>
<text x="417.1" y="398" class="lab" font-size="10.5" text-anchor="middle" textLength="13.2" lengthAdjust="spacingAndGlyphs" fill="#000">(<tspan font-weight="bold">d</tspan>)</text>
</svg>
</body></html>
